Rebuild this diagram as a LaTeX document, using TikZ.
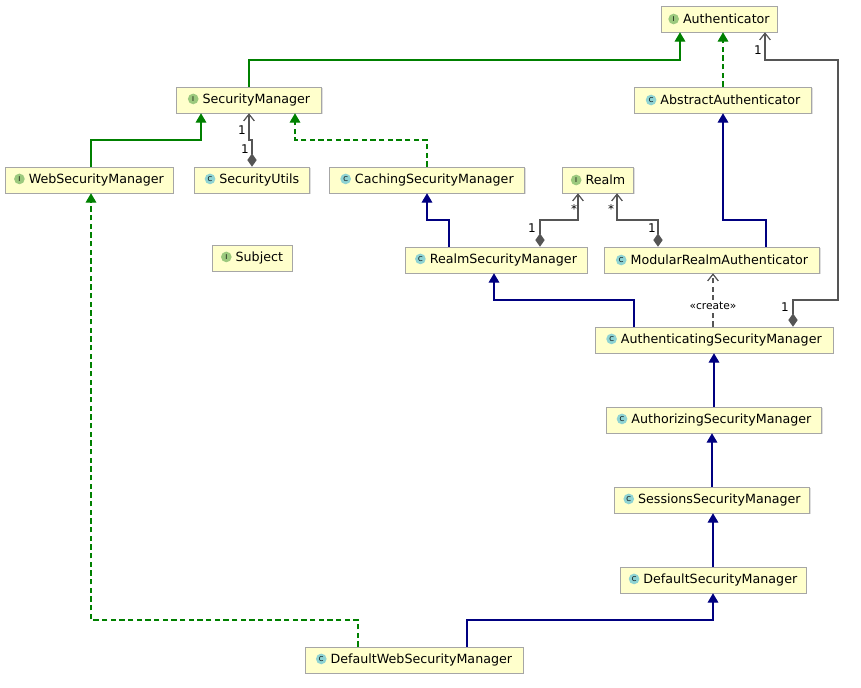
\documentclass[tikz,border=0pt]{standalone}
\usepackage{fontspec}
\setmainfont{DejaVu Sans}
\usetikzlibrary{arrows.meta,calc,shadows}
\definecolor{nfill}{HTML}{FFFFCC}
\definecolor{igr}{HTML}{9CC97E}
\definecolor{ccy}{HTML}{8ED3D3}
\definecolor{gr}{HTML}{008000}
\definecolor{nv}{HTML}{000080}
\definecolor{ag}{HTML}{555555}
\newcommand\icI{\tikz[baseline=-0.7ex]\node[circle,fill=igr,inner sep=0pt,minimum size=8pt,font=\fontsize{5}{5}\selectfont]{I};}
\newcommand\icC{\tikz[baseline=-0.7ex]\node[circle,fill=ccy,inner sep=0pt,minimum size=8pt,font=\fontsize{5}{5}\selectfont]{C};}
\tikzset{x=0.75pt,y=-0.75pt,
 cls/.style={draw=gray!70,fill=nfill,minimum height=19.5pt,inner sep=2pt,font=\fontsize{9.5}{11}\selectfont,drop shadow={shadow xshift=1pt,shadow yshift=-1pt,fill=gray!50}},
 w/.style={minimum width=#1*0.75pt},
 cn/.style={line width=0.9pt},
 gen/.style={cn,color=gr,-{Triangle[width=8pt,length=7pt]}},
 impl/.style={cn,color=gr,dash pattern=on 4pt off 2.5pt,-{Triangle[width=8pt,length=7pt]}},
 ext/.style={cn,color=nv,-{Triangle[width=8pt,length=7pt]}},
 assoc/.style={cn,color=ag,{Diamond[width=7pt,length=10pt]}-{Straight Barb[width=8pt,length=5pt]}},
 dep/.style={cn,color=ag,dash pattern=on 4pt off 2.5pt,-{Straight Barb[width=8pt,length=5pt]}},
 lab/.style={font=\fontsize{9}{10}\selectfont,inner sep=1pt,text=black}}
\begin{document}
\begin{tikzpicture}
\useasboundingbox (0,0) rectangle (861,687);
\node[cls,w=116] (au) at (719,19) {\icI\ Authenticator};
\node[cls,w=145] (sm) at (249,100) {\icI\ SecurityManager};
\node[cls,w=177] (aa) at (723,100) {\icC\ AbstractAuthenticator};
\node[cls,w=168] (wsm) at (89,180) {\icI\ WebSecurityManager};
\node[cls,w=115] (su) at (252,180) {\icC\ SecurityUtils};
\node[cls,w=195] (csm) at (427,180) {\icC\ CachingSecurityManager};
\node[cls,w=71] (re) at (598,180) {\icI\ Realm};
\node[cls,w=80] (sub) at (252,258) {\icI\ Subject};
\node[cls,w=182] (rsm) at (496,260) {\icC\ RealmSecurityManager};
\node[cls,w=215] (mra) at (712,260) {\icC\ ModularRealmAuthenticator};
\node[cls,w=238] (asm) at (714,340) {\icC\ AuthenticatingSecurityManager};
\node[cls,w=215] (azm) at (714,420) {\icC\ AuthorizingSecurityManager};
\node[cls,w=195] (ssm) at (712,500) {\icC\ SessionsSecurityManager};
\node[cls,w=186] (dsm) at (713,580) {\icC\ DefaultSecurityManager};
\node[cls,w=218] (dwsm) at (414,660) {\icC\ DefaultWebSecurityManager};

\draw[gen] (sm.north) |- (680,60) -- ($(au.south)+(-39,0)$);
\draw[impl] (aa.north) -- ($(au.south)+(4,0)$);
\draw[assoc] ($(asm.north)+(79,0)$) |- (838,300) |- (765,60) -- ($(au.south)+(46,0)$);
\node[lab] at (758,50) {1};
\node[lab] at (785,307) {1};
\draw[gen] ($(wsm.north)+(2,0)$) |- (201,140) -- ($(sm.south)+(-48,0)$);
\draw[assoc] (su.north) |- (249,140) -- (sm.south);
\node[lab] at (242,130) {1};
\node[lab] at (245,149) {1};
\draw[impl] (csm.north) |- (295,140) -- ($(sm.south)+(46,0)$);
\draw[ext] ($(rsm.north)+(-47,0)$) |- (427,220) -- (csm.south);
\draw[assoc] ($(rsm.north)+(44,0)$) |- (578,220) -- ($(re.south)+(-20,0)$);
\node[lab] at (574,209) {*};
\node[lab] at (532,228) {1};
\draw[assoc] ($(mra.north)+(-54,0)$) |- (617,220) -- ($(re.south)+(19,0)$);
\node[lab] at (611,209) {*};
\node[lab] at (652,228) {1};
\draw[ext] ($(mra.north)+(54,0)$) |- (723,220) -- (aa.south);
\draw[ext] ($(asm.north)+(-80,0)$) |- (494,300) -- ($(rsm.south)+(-2,0)$);
\draw[dep] ($(asm.north)+(-1,0)$) -- ($(mra.south)+(1,0)$) node[pos=0.4,lab,fill=white,font=\fontsize{8}{9}\selectfont] {«create»};
\draw[ext] (azm.north) -- (asm.south);
\draw[ext] (ssm.north) -- ($(azm.south)+(-2,0)$);
\draw[ext] (dsm.north) -- ($(ssm.south)+(1,0)$);
\draw[ext] ($(dwsm.north)+(53,0)$) |- (713,620) -- (dsm.south);
\draw[impl] ($(dwsm.north)+(-56,0)$) |- (91,620) -- ($(wsm.south)+(2,0)$);
\end{tikzpicture}
\end{document}
